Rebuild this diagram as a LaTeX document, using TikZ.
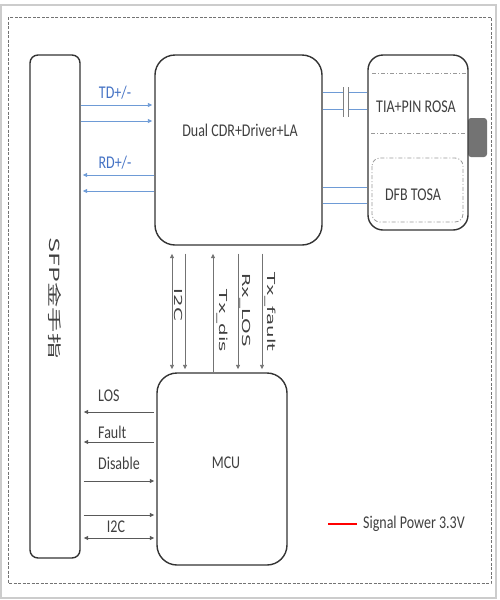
\documentclass[tikz,border=0pt]{standalone}
\usepackage{fontspec}
\setmainfont{Carlito}
\newfontfamily\dvs{DejaVu Sans}
\newfontfamily\cjk{Noto Sans CJK SC}
\usetikzlibrary{arrows.meta}
\definecolor{sigblue}{HTML}{6E9BD6}
\definecolor{txtblue}{HTML}{4472C4}
\newcommand{\hs}[1]{\scalebox{1}[1.28]{#1}}
\newcommand{\vtext}[1]{\scalebox{1.8}[1]{#1}}
\begin{document}
\begin{tikzpicture}[x=1pt,y=-1pt,
  >={Triangle[length=4.5pt,width=4pt]},
  box/.style={draw=black!80, line width=1.4pt, inner sep=0pt},
  lbl/.style={font=\fontsize{14}{14}\selectfont, text=black!75, inner sep=0pt},
  rlbl/.style={font=\dvs\fontsize{11}{11}\selectfont, text=black!75, rotate=-90, inner sep=0pt},
  sig/.style={draw=sigblue, line width=0.9pt},
  ctl/.style={draw=black!65, line width=1pt},
  vline/.style={draw=black!55, line width=0.9pt},
  dd/.style={draw=black!40, line width=0.8pt, dash pattern=on 4pt off 2pt on 1pt off 2pt}
]
\useasboundingbox (0,0) rectangle (500,600);
% frames
\draw[black!20, line width=1.5pt] (1,5) rectangle (496,598);
\draw[black!55, line width=1pt, dash pattern=on 3pt off 1.5pt] (8,17) rectangle (491,583);

% boxes
\node[box, rounded corners=8pt, minimum width=50pt, minimum height=503pt] (sfp) at (55,306.5) {};
\node[rlbl, font=\cjk\fontsize{14}{14}\selectfont] (sfplbl) at (55,298) {\vtext{SFP金手指}};

\node[box, rounded corners=20pt, minimum width=167pt, minimum height=190pt] (cdr) at (238.5,150) {};
\node[lbl] (cdrlbl) at (240,130) {\hs{Dual CDR+Driver+LA}};

\node[fill=black!55, rounded corners=3pt, minimum width=19pt, minimum height=39pt, inner sep=0pt] (tab) at (477.5,137.5) {};
\node[box, fill=white, rounded corners=15pt, minimum width=100pt, minimum height=175pt] (osa) at (418,142.5) {};
\draw[dd] ([xshift=5pt]osa.west |- 0,73) -- ([xshift=-2pt]osa.east |- 0,73);
\draw[dd] ([xshift=4pt]osa.west |- 0,133) -- ([xshift=-2pt]osa.east |- 0,133);
\draw[dd, rounded corners=8pt] (372,158) rectangle (463,222);
\node[lbl] (rosa) at (416,107) {\hs{TIA+PIN ROSA}};
\node[lbl] (tosa) at (413,195) {\hs{DFB TOSA}};

\node[box, rounded corners=20pt, minimum width=130pt, minimum height=192pt] (mcu) at (222,469) {};
\node[lbl] (mculbl) at (226,463) {\hs{MCU}};

% high speed signals
\draw[sig, ->, shorten >=2pt] (sfp.east |- 0,105) -- (cdr.west |- 0,105);
\draw[sig, ->, shorten >=2pt] (sfp.east |- 0,121) -- (cdr.west |- 0,121);
\draw[sig, <-, shorten <=2pt] (sfp.east |- 0,175) -- (cdr.west |- 0,175);
\draw[sig, <-, shorten <=2pt] (sfp.east |- 0,191) -- (cdr.west |- 0,191);
\node[lbl, text=txtblue] (td) at (115,93) {\hs{TD+/-}};
\node[lbl, text=txtblue] (rd) at (115,163) {\hs{RD+/-}};

% capacitor and OSA links
\coordinate (capL) at (343,102);
\coordinate (capR) at (348,102);
\draw[sig] (cdr.east |- 0,92) -- (capL |- 0,92);
\draw[sig] (capR |- 0,92) -- (osa.west |- 0,92);
\draw[sig] (cdr.east |- 0,109) -- (capL |- 0,109);
\draw[sig] (capR |- 0,109) -- (osa.west |- 0,109);
\draw[black!50, line width=0.8pt] (capL |- 0,87) -- (capL |- 0,117);
\draw[black!50, line width=0.8pt] (capR |- 0,87) -- (capR |- 0,117);
\draw[sig] (cdr.east |- 0,187) -- (osa.west |- 0,187);
\draw[sig] (cdr.east |- 0,203) -- (osa.west |- 0,203);

% CDR <-> MCU
\draw[vline, <->, shorten <=8pt, shorten >=3pt] (cdr.south -| 172,0) -- (mcu.north -| 172,0);
\draw[vline, ->, shorten <=8pt, shorten >=3pt] (cdr.south -| 185,0) -- (mcu.north -| 185,0);
\draw[vline, <-, shorten <=8pt] (cdr.south -| 213,0) -- (mcu.north -| 213,0);
\draw[vline, ->, shorten <=8pt, shorten >=3pt] (cdr.south -| 238,0) -- (mcu.north -| 238,0);
\draw[vline, ->, shorten <=8pt, shorten >=3pt] (cdr.south -| 262,0) -- (mcu.north -| 262,0);
\node[rlbl] (li2c) at (179,305) {\vtext{I2C}};
\node[rlbl] (ltxdis) at (222,321) {\vtext{Tx\_dis}};
\node[rlbl] (lrxlos) at (245,310) {\vtext{Rx\_LOS}};
\node[rlbl] (ltxfault) at (270,312) {\vtext{Tx\_fault}};

% MCU <-> SFP
\draw[ctl, <-, shorten <=3pt, shorten >=2pt] (sfp.east |- 0,412) -- (mcu.west |- 0,412);
\draw[ctl, <-, shorten <=3pt, shorten >=2pt] (sfp.east |- 0,442) -- (mcu.west |- 0,442);
\draw[ctl, ->, shorten <=3pt, shorten >=2pt] (sfp.east |- 0,481) -- (mcu.west |- 0,481);
\draw[ctl, ->, shorten <=3pt, shorten >=2pt] (sfp.east |- 0,515) -- (mcu.west |- 0,515);
\draw[ctl, <->, shorten <=3pt, shorten >=2pt] (sfp.east |- 0,538) -- (mcu.west |- 0,538);
\node[lbl, anchor=west] (los) at (98,396) {\hs{LOS}};
\node[lbl, anchor=west] (fault) at (98,432) {\hs{Fault}};
\node[lbl, anchor=west] (dis) at (98,463) {\hs{Disable}};
\node[lbl] (i2c) at (116,527) {\hs{I2C}};

% legend
\coordinate (legA) at (328,524);
\coordinate (legB) at (357,524);
\draw[red, line width=2.5pt] (legA) -- (legB);
\node[lbl, anchor=west] (leg) at (363,524) {\hs{Signal Power 3.3V}};
\end{tikzpicture}
\end{document}
